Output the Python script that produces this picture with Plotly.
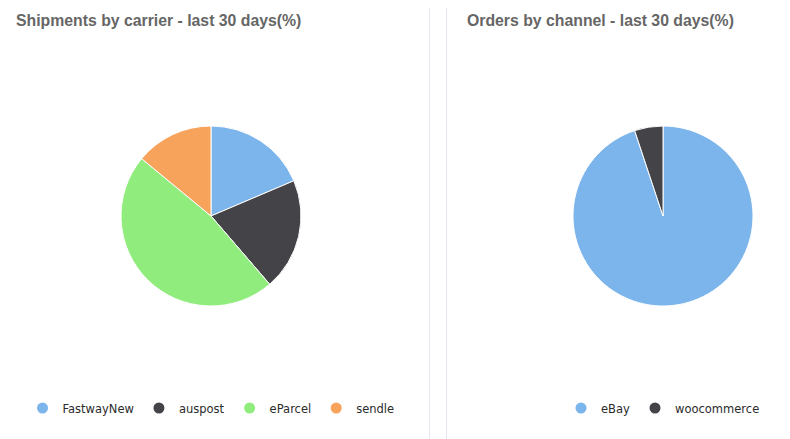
import plotly.graph_objects as go

# ---- data ----
carrier_labels = ["FastwayNew", "auspost", "eParcel", "sendle"]
carrier_values = [18.6, 20.1, 47.3, 14.0]
carrier_colors = ["#7cb5ec", "#434348", "#90ed7d", "#f7a35c"]

channel_labels = ["eBay", "woocommerce"]
channel_values = [94.9, 5.1]
channel_colors = ["#7cb5ec", "#434348"]

# page body has an 8px margin, so draw on a slightly smaller canvas
OFF = 8
W, H = 790 - OFF, 439 - OFF


def px_x(x):
    return (x - OFF) / W


def px_y(y):
    return (H - (y - OFF)) / H


def dom(cx, cy, r):
    # pie domain in paper coords from pixel centre / radius
    return dict(x=[px_x(cx - r), px_x(cx + r)], y=[px_y(cy + r), px_y(cy - r)])


fig = go.Figure()

fig.add_trace(
    go.Pie(
        labels=carrier_labels,
        values=carrier_values,
        marker=dict(colors=carrier_colors, line=dict(color="white", width=1)),
        sort=False,
        direction="clockwise",
        rotation=0,
        textinfo="none",
        hoverinfo="label+percent",
        domain=dom(211, 216, 90),
        showlegend=False,
    )
)

fig.add_trace(
    go.Pie(
        labels=channel_labels,
        values=channel_values,
        marker=dict(colors=channel_colors, line=dict(color="white", width=1)),
        sort=False,
        direction="clockwise",
        rotation=0,
        textinfo="none",
        hoverinfo="label+percent",
        domain=dom(663, 216, 90),
        showlegend=False,
    )
)

# round legend markers (pie legend symbols are squares)
for lab, col in zip(carrier_labels, carrier_colors):
    fig.add_trace(go.Scatter(x=[None], y=[None], mode="markers", name=lab,
                             marker=dict(color=col, size=11, symbol="circle"),
                             legend="legend"))
for lab, col in zip(channel_labels, channel_colors):
    fig.add_trace(go.Scatter(x=[None], y=[None], mode="markers", name=lab,
                             marker=dict(color=col, size=11, symbol="circle"),
                             legend="legend2"))

legend_font = dict(family="DejaVu Sans, sans-serif", size=11.5, color="#2b2b2b")
title_font = dict(family="Liberation Sans, Arial, sans-serif", size=15.8, color="#666666")

fig.update_layout(
    width=W,
    height=H,
    margin=dict(l=0, r=0, t=0, b=0),
    paper_bgcolor="white",
    plot_bgcolor="white",
    xaxis=dict(visible=False),
    yaxis=dict(visible=False),
    legend=dict(
        orientation="h",
        x=px_x(211),
        xanchor="center",
        y=px_y(408),
        yanchor="middle",
        font=legend_font,
        itemwidth=30,
        bgcolor="rgba(0,0,0,0)",
    ),
    legend2=dict(
        orientation="h",
        x=px_x(663),
        xanchor="center",
        y=px_y(408),
        yanchor="middle",
        font=legend_font,
        itemwidth=30,
        bgcolor="rgba(0,0,0,0)",
    ),
    annotations=[
        dict(
            text="<b>Shipments by carrier - last 30 days(%)</b>",
            x=px_x(14), y=px_y(20),
            xref="paper", yref="paper",
            xanchor="left", yanchor="middle",
            showarrow=False,
            font=title_font,
        ),
        dict(
            text="<b>Orders by channel - last 30 days(%)</b>",
            x=px_x(465), y=px_y(20),
            xref="paper", yref="paper",
            xanchor="left", yanchor="middle",
            showarrow=False,
            font=title_font,
        ),
    ],
    shapes=[
        dict(type="line", xref="paper", yref="paper", x0=px_x(429.5), x1=px_x(429.5), y0=0, y1=1.05,
             line=dict(color="#e3e8ee", width=1)),
        dict(type="line", xref="paper", yref="paper", x0=px_x(446.5), x1=px_x(446.5), y0=0, y1=1.05,
             line=dict(color="#e3e8ee", width=1)),
    ],
)

fig.write_html("out.html")
